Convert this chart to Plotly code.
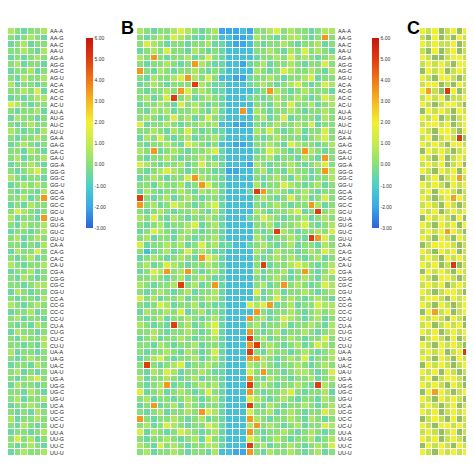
import plotly.graph_objects as go

bases = ["A", "G", "C", "U"]
row_labels = [a + b + "-" + c for a in bases for b in bases for c in bases]

# level codes -> values
code_vals = {"b": -2.0, "c": -1.4, "t": -0.5, "g": 0.0, "l": 0.6, "y": 1.4, "Y": 2.3, "o": 3.5, "r": 5.0}

panel_a_rows = [
"lgtggl","gtglgt","tgltgg","gglgtl","tgtglg","gltggt","tggltg","gtlggl",
"ltggtg","gglgyt","tgtgll","ylgtgg","gtgglt","tlggtg","gtglgg","lgtgtl",
"gtgglg","tglgtg","ggtlgt","gltggl","tgglgt","gtglyg","lgtggt","tglglg",
"gtggtl","ggltgo","tgtlgg","gylgtg","ltggto","gtlggl","tggtgl","gltglg",
"ggtgtl","tlggyg","gtgltg","lgtggl","tggltg","gtlgtg","ggtgll","tlgtgg",
"gtggtl","lgtglg","tggltg","gltggt","gtgtlg","tlggtg","gtlggl","ggtgtl",
"ltggtg","gtglgg","tggtlg","gltgtg","gtglyg","tlggtg","ggtlgt","gltggl",
"tgglgt","gtgtlg","ltgglg","gtlgtg","tggtgl","gygltg","gtglgt","tglggl",
]

panel_b_rows = [
"lgtgglylgtgl"+"bbbcb"+"gglyglggtgll",
"gtglgylgttgg"+"ccbbc"+"lggtgllgtgog",
"gylgtggtgglt"+"tcbbc"+"gtgglgtggltg",
"tglgyggtlgtg"+"tcccc"+"gglgtlgyglgt",
"lgogtggltgyg"+"tcccc"+"tgglgyglgtgl",
"gtgglgtgolgt"+"tccbt"+"gltgglgtggyg",
"ogtlgtgglgtg"+"tcccc"+"lgtgylgglgtl",
"gtlgglyolgyg"+"ccbbt"+"gglgtgglytgg",
"tglgtgggrlgt"+"tccct"+"glgtglygtgyl",
"gtgglgoyglgt"+"tcccc"+"tgolgtglgggt",
"gltgyrgltglg"+"tccct"+"gtglgglgtgyl",
"tgglgtyglgtg"+"tcccc"+"ggtlgyggltgl",
"gtlgltgglgtl"+"tccoc"+"lgtgglgtgglg",
"glgtgygltgyg"+"tcccc"+"gltgytgggtlg",
"ytgglgtgglgl"+"ccbbc"+"gtglgglgytgg",
"gglgtlgygtgt"+"tcccc"+"lgygtgltggyg",
"tlgygtgltggl"+"tcccc"+"gtglgggtglyg",
"gtgglgtylgtg"+"ccbbc"+"gglgtylggtgl",
"lgotglgtggly"+"tcccc"+"tgylgtgolgtg",
"gtgglgtgglgt"+"tcccc"+"ggltggtlgtog",
"ylgtggltgygl"+"tcccb"+"lgtgglgtglyg",
"gtglylgtgggt"+"tbbcc"+"gltgtlggtgol",
"tglgtggyolgg"+"tcccc"+"gtglgtlgtggl",
"ggtlggltgoyg"+"tcccc"+"ltggylgtgltg",
"tlgtgglgtlgl"+"tccct"+"roglgtglgtgg",
"rgtgltglgtgg"+"tcccc"+"glgtgygltgyg",
"ogltgylgtgly"+"tcccc"+"gtglgtggoltg",
"gtglgtgglgtl"+"tcccc"+"lgtgglytgrgl",
"lgygtlgtgglg"+"tccct"+"gylgtggltglg",
"gtgltgglytgl"+"tcccc"+"ggltgglygtgl",
"tgylgtglgtgg"+"tcccc"+"gtgrlgtgglgy",
"gltggtlgtggl"+"tcccc"+"lgtgglgtroyg",
"ytgglgltgygl"+"ttcct"+"glgtgltggtlg",
"gctgltgyglgt"+"tcccc"+"lgtlggtglgyl",
"tglgtglgtoyl"+"tcccc"+"gtglglgtgltg",
"gltgylgtgglg"+"tcccc"+"grtgglylgtgl",
"tgyloglogtgl"+"tcccc"+"ltggltgogtgy",
"gglgtgltglgt"+"tcccc"+"gtglgtglgtlg",
"lgtgglrgltgo"+"tcccc"+"gltgoglgtgyl",
"gtglgtgltggl"+"tcccc"+"ytgltgglgtgl",
"ygltggltggll"+"tcccc"+"gtgyglgtglgt",
"gtgyltggltgt"+"tcccy"+"lyotgltggyll",
"tlgglgytgltg"+"tcccc"+"ogtgglgtglgl",
"gtgltgglgtgl"+"tccco"+"gltgylgtgltg",
"lgtgtrgltgly"+"tcccg"+"ltggltgglgtl",
"gglgtgglgtgy"+"tccco"+"gtgltgglgtgl",
"tgltgglgtggl"+"tcccr"+"gltgglgtggyg",
"ggtlgtggltgg"+"tccco"+"rglgtgltgylg",
"gtgglgtlgtgy"+"tcccr"+"gtlggtglgtgl",
"tglygtggltgl"+"tccco"+"olgtglgytggl",
"grgtglytgglg"+"tcccl"+"glgtgglgtglg",
"gtlgyltgglgt"+"tcccy"+"goggtgllgtgy",
"ltgglgtgltgg"+"tccco"+"gtlggtggltgl",
"gtglotgtglgl"+"tcccr"+"glgtgglgtrlg",
"ytgltglgtgyg"+"tccco"+"gtgglygtgglt",
"gltggtglgtgl"+"tcccy"+"lgtglgtggtlg",
"tgotgltlgtgg"+"tcccr"+"gtlgtgglgtgl",
"gtgltgglgoyl"+"tcccy"+"ggltglgtggyl",
"ogtgglgtgltg"+"tccco"+"lgtgglgtlgtg",
"gltgylgtggyl"+"tcccl"+"oglgtgltggyl",
"ytlgtgylgtgl"+"tccco"+"gtgglgtglgtg",
"gtgglgtgltyg"+"tcccy"+"ltglgtggltgl",
"lgtyglgtggll"+"tcccr"+"gltgglgtglgy",
"gltgglgtggtl"+"ccbbo"+"gtlgglgtgltg",
]

c_vals = {"g": 0.0, "l": 1.0, "y": 2.0, "o": 3.5, "r": 5.0}
panel_c_rows = [
"ylyglygylg","lgyglgylgy","ylyllyglyl","lgyglyglgy","ylgglyylgl","lylylgyylg",
"gylyglylyg","ylgyylglyl","lyyglgylgy","yolgryglyl","lylygllygy","ylglyylgol",
"gylylgylyl","ylyglglyyg","lyylyglylg","ylgyylgylo","lyglylrgly","ylylgyylgl",
"gylylglygy","ylgyglylyo","lylyglyglg","ylgylygyly","glyglyolgy","ylylgylylg",
"lygyylglyl","ylglyoylgy","lylgylglyl","ylyglylyor","gylylgyglg","ylgylygyly",
"lylyoylglg","ylgylgylyy","glyyylglgl","ylgylyglyo","lylgylylgy","ylyglrglyl",
"gylylgylgy","ylgyylglyl","lylyglylgy","ylglyylgyl","lyylgylylg","ylgylglyly",
"gyolyglygy","ylylgylgyl","lyglylyglg","ylyglylyly","glylgyglyo","ylgylylgyl",
"lylyglyrgy","ylgylgylyl","gylylglygy","ylygylglyl","lyglyylgly","ylylgylgyg",
"gyoylglyly","ylgylylgyl","lylglyglgy","ylyglylyly","glylgyglyg","ylgyylylgl",
"lylglyglyo","ylyglylgyl","gylylgylgy","ylgylylyly",
]

def decode(rows, table):
    return [[table[ch] for ch in r] for r in rows]

za = decode(panel_a_rows, code_vals)
zb = decode(panel_b_rows, code_vals)
zc = decode(panel_c_rows, c_vals)

tick_vals = [6, 5, 4, 3, 2, 1, 0, -1, -2, -3]
tick_text = ["%.2f" % v for v in tick_vals]

jet = [
    [0.0, "#2f62d8"], [0.111, "#3aa8e8"], [0.222, "#4cd0cc"], [0.333, "#88e07a"],
    [0.444, "#c4ec50"], [0.555, "#f2f030"], [0.666, "#f5b820"], [0.777, "#f07818"],
    [0.888, "#e03c10"], [1.0, "#c8140c"],
]
cscale_c = [[0.0, "#92c060"], [0.2, "#c6e24a"], [0.4, "#eef030"], [0.7, "#f0a024"], [1.0, "#d83a10"]]

W = 474.0
top = 1 - 20 / W
bot = 1 - 448 / W

def cbar(xpx):
    return dict(x=xpx / W, xanchor="left", y=top, yanchor="top", len=(230 - 20) / W,
                thickness=7, outlinewidth=0, tickvals=tick_vals, ticktext=tick_text,
                tickfont=dict(size=5, color="#333", family="Liberation Sans"), ticklen=0, xpad=0)

fig = go.Figure()
fig.add_trace(go.Heatmap(z=za, y=row_labels, colorscale=jet, zmin=-3, zmax=6, xgap=1, ygap=1,
                         colorbar=cbar(78), xaxis="x", yaxis="y"))
fig.add_trace(go.Heatmap(z=zb, y=row_labels, colorscale=jet, zmin=-3, zmax=6, xgap=1, ygap=1,
                         colorbar=cbar(364), xaxis="x2", yaxis="y2"))
fig.add_trace(go.Heatmap(z=zc, colorscale=cscale_c, zmin=0, zmax=5, xgap=1, ygap=1,
                         showscale=False, xaxis="x3", yaxis="y3"))

ytick = dict(tickfont=dict(size=5.5, color="#222", family="Liberation Sans"), side="right",
             autorange="reversed", showgrid=False, zeroline=False, ticks="", dtick=1,
             domain=[bot, top], ticklabelstandoff=1)
xax = dict(showticklabels=False, showgrid=False, zeroline=False, ticks="")

fig.update_layout(
    width=474, height=474, margin=dict(l=0, r=0, t=0, b=0),
    paper_bgcolor="white", plot_bgcolor="white",
    xaxis=dict(xax, domain=[0, 40 / W]),
    yaxis=dict(ytick, anchor="x"),
    xaxis2=dict(xax, domain=[129 / W, 328 / W]),
    yaxis2=dict(ytick, anchor="x2"),
    xaxis3=dict(xax, domain=[412 / W, 1]),
    yaxis3=dict(showticklabels=False, showgrid=False, zeroline=False, autorange="reversed",
                domain=[bot, top], anchor="x3"),
    annotations=[
        dict(text="<b>B</b>", x=111 / W, y=1 - 8 / W, xref="paper", yref="paper", xanchor="left",
             yanchor="top", showarrow=False, font=dict(size=18, family="Liberation Sans", color="black")),
        dict(text="<b>C</b>", x=397 / W, y=1 - 8 / W, xref="paper", yref="paper", xanchor="left",
             yanchor="top", showarrow=False, font=dict(size=18, family="Liberation Sans", color="black")),
    ],
)

fig.write_html("out.html")
